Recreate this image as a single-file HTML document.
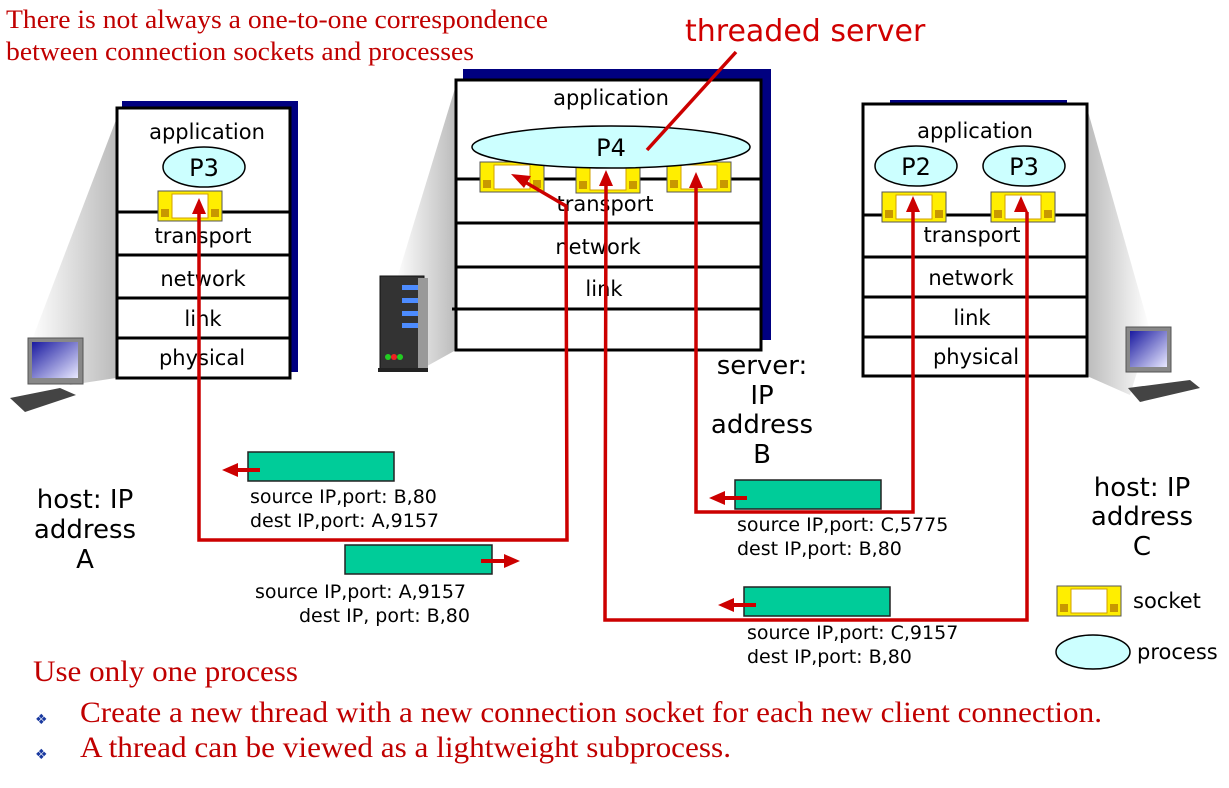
<!DOCTYPE html>
<html><head><meta charset="utf-8"><style>
body{margin:0;background:#fff}
svg text{font-family:"DejaVu Sans","Liberation Sans",sans-serif}
.s{font-family:"Liberation Serif",serif !important}
</style></head><body>
<svg width="1229" height="783" viewBox="0 0 1229 783" xmlns="http://www.w3.org/2000/svg">
<defs>
<linearGradient id="g" x1="0" x2="1"><stop offset="0" stop-color="#fff"/><stop offset="1" stop-color="#bbb"/></linearGradient>
<linearGradient id="g2" x1="1" x2="0"><stop offset="0" stop-color="#fff"/><stop offset="1" stop-color="#bbb"/></linearGradient>
<linearGradient id="scr" x1="0" y1="0" x2="1" y2="1"><stop offset="0" stop-color="#1a1aa0"/><stop offset="1" stop-color="#e8e8ff"/></linearGradient>
<g id="sock"><rect x="0" y="0" width="64" height="30" fill="#ffee00" stroke="#555" stroke-width="1"/><rect x="14" y="3" width="36" height="24" fill="#fff" stroke="#d0a000" stroke-width="1"/><rect x="3" y="18" width="8" height="8" fill="#c89800"/><rect x="53" y="18" width="8" height="8" fill="#c89800"/></g>
</defs>
<text x="6" y="28" class="s" font-size="26" fill="#c00000" textLength="542" lengthAdjust="spacingAndGlyphs">There is not always a one-to-one correspondence</text>
<text x="6" y="60" class="s" font-size="26" fill="#c00000" textLength="468" lengthAdjust="spacingAndGlyphs">between connection sockets and processes</text>
<text x="685" y="41" font-size="30" fill="#d00000">threaded server</text>

<!-- shading -->
<polygon points="30,345 116,120 116,378 70,385" fill="url(#g)"/>
<polygon points="395,285 456,85 456,350 420,370" fill="url(#g)"/>
<polygon points="1087,108 1150,330 1130,395 1087,376" fill="url(#g2)"/>

<!-- left host -->
<rect x="122" y="101" width="176" height="271" fill="#000080"/>
<rect x="117" y="108" width="173" height="270" fill="#fff" stroke="#000" stroke-width="3"/>
<g stroke="#000" stroke-width="3"><line x1="117" y1="212" x2="290" y2="212"/><line x1="117" y1="255" x2="290" y2="255"/><line x1="117" y1="298" x2="290" y2="298"/><line x1="117" y1="338" x2="290" y2="338"/></g>
<text x="207" y="139" font-size="21" text-anchor="middle">application</text>
<ellipse cx="204" cy="167" rx="41" ry="20" fill="#ccffff" stroke="#000" stroke-width="1.5"/>
<text x="204" y="176" font-size="24" text-anchor="middle">P3</text>
<use href="#sock" x="158" y="191"/>
<text x="203" y="243" font-size="21" text-anchor="middle">transport</text>
<text x="203" y="286" font-size="21" text-anchor="middle">network</text>
<text x="203" y="326" font-size="21" text-anchor="middle">link</text>
<text x="202" y="365" font-size="21" text-anchor="middle">physical</text>

<!-- server -->
<rect x="463" y="69" width="308" height="271" fill="#000080"/>
<rect x="456" y="80" width="305" height="270" fill="#fff" stroke="#000" stroke-width="3"/>
<g stroke="#000" stroke-width="3"><line x1="456" y1="179" x2="761" y2="179"/><line x1="456" y1="223" x2="761" y2="223"/><line x1="456" y1="267" x2="761" y2="267"/><line x1="452" y1="309" x2="761" y2="309"/></g>
<text x="611" y="105" font-size="21" text-anchor="middle">application</text>
<use href="#sock" x="480" y="162"/>
<use href="#sock" x="576" y="163"/>
<use href="#sock" x="667" y="162"/>
<ellipse cx="611" cy="147" rx="139" ry="21" fill="#ccffff" stroke="#000" stroke-width="1.5"/>
<text x="611" y="156" font-size="24" text-anchor="middle">P4</text>
<text x="605" y="211" font-size="21" text-anchor="middle">transport</text>
<text x="598" y="254" font-size="21" text-anchor="middle">network</text>
<text x="604" y="296" font-size="21" text-anchor="middle">link</text>

<!-- right host -->
<rect x="890" y="100" width="177" height="6" fill="#000080"/>
<rect x="863" y="104" width="224" height="272" fill="#fff" stroke="#000" stroke-width="3"/>
<g stroke="#000" stroke-width="3"><line x1="863" y1="215" x2="1087" y2="215"/><line x1="863" y1="257" x2="1087" y2="257"/><line x1="863" y1="297" x2="1087" y2="297"/><line x1="863" y1="337" x2="1087" y2="337"/></g>
<text x="975" y="138" font-size="21" text-anchor="middle">application</text>
<ellipse cx="916" cy="166" rx="41" ry="20" fill="#ccffff" stroke="#000" stroke-width="1.5"/>
<text x="916" y="175" font-size="24" text-anchor="middle">P2</text>
<ellipse cx="1024" cy="166" rx="41" ry="20" fill="#ccffff" stroke="#000" stroke-width="1.5"/>
<text x="1024" y="175" font-size="24" text-anchor="middle">P3</text>
<use href="#sock" x="882" y="192"/>
<use href="#sock" x="991" y="192"/>
<text x="972" y="242" font-size="21" text-anchor="middle">transport</text>
<text x="971" y="285" font-size="21" text-anchor="middle">network</text>
<text x="972" y="325" font-size="21" text-anchor="middle">link</text>
<text x="976" y="364" font-size="21" text-anchor="middle">physical</text>

<!-- red routes -->
<g fill="none" stroke="#cc0000" stroke-width="3.5">
<polyline points="199,212 199,540 567,540 566,206 525,182"/>
<polyline points="606,182 605,620 1027,620 1027,212"/>
<polyline points="696,185 696,512 913,512 913,210"/>
<line x1="736" y1="52" x2="647" y2="150"/>
</g>
<g fill="#cc0000">
<polygon points="199,198 192,214 206,214"/>
<polygon points="511,174 524,188 531,176"/>
<polygon points="606,170 599,186 613,186"/>
<polygon points="696,172 689,188 703,188"/>
<polygon points="913,196 906,212 920,212"/>
<polygon points="1021,196 1014,212 1028,212"/>
</g>

<!-- packets -->
<g fill="#00cc99" stroke="#222" stroke-width="1.5">
<rect x="248" y="452" width="146" height="29"/>
<rect x="345" y="545" width="147" height="29"/>
<rect x="735" y="480" width="146" height="29"/>
<rect x="744" y="587" width="146" height="29"/>
</g>
<g stroke="#cc0000" stroke-width="4"><line x1="235" y1="470" x2="260" y2="470"/><line x1="481" y1="561" x2="508" y2="561"/><line x1="722" y1="498" x2="747" y2="498"/><line x1="731" y1="605" x2="756" y2="605"/></g>
<g fill="#cc0000"><polygon points="222,470 238,463 238,477"/><polygon points="520,561 504,554 504,568"/><polygon points="709,498 725,491 725,505"/><polygon points="718,605 734,598 734,612"/></g>
<g font-size="19">
<text x="250" y="503">source IP,port: B,80</text>
<text x="250" y="527">dest IP,port: A,9157</text>
<text x="255" y="598">source IP,port: A,9157</text>
<text x="299" y="622">dest IP, port: B,80</text>
<text x="737" y="531">source IP,port: C,5775</text>
<text x="737" y="555">dest IP,port: B,80</text>
<text x="747" y="639">source IP,port: C,9157</text>
<text x="747" y="663">dest IP,port: B,80</text>
</g>
<g font-size="26" text-anchor="middle">
<text x="762" y="374">server:</text><text x="762" y="404">IP</text><text x="762" y="433">address</text><text x="762" y="463">B</text>
<text x="85" y="508">host: IP</text><text x="85" y="538">address</text><text x="85" y="568">A</text>
<text x="1142" y="496">host: IP</text><text x="1142" y="525">address</text><text x="1142" y="555">C</text>
</g>

<!-- legend -->
<use href="#sock" x="1057" y="586"/>
<text x="1133" y="608" font-size="21">socket</text>
<ellipse cx="1093" cy="652" rx="37" ry="17" fill="#ccffff" stroke="#000" stroke-width="1.5"/>
<text x="1137" y="659" font-size="21">process</text>

<!-- server icon -->
<rect x="380" y="276" width="44" height="94" fill="#333" stroke="#111"/>
<rect x="418" y="278" width="10" height="90" fill="#999"/>
<g fill="#4d8cff"><rect x="402" y="285" width="16" height="5"/><rect x="402" y="298" width="16" height="5"/><rect x="402" y="311" width="16" height="5"/><rect x="402" y="323" width="16" height="5"/></g>
<circle cx="388" cy="357" r="3" fill="#2c2"/><circle cx="394" cy="357" r="3" fill="#e22"/><circle cx="400" cy="357" r="3" fill="#2c2"/>
<rect x="378" y="368" width="50" height="4" fill="#222"/>

<!-- laptops -->
<rect x="28" y="338" width="55" height="46" fill="#888" stroke="#555"/>
<rect x="32" y="342" width="46" height="36" fill="url(#scr)"/>
<polygon points="10,398 60,388 76,395 25,412" fill="#444"/>
<rect x="1126" y="327" width="45" height="45" fill="#888" stroke="#555"/>
<rect x="1130" y="331" width="37" height="36" fill="url(#scr)"/>
<polygon points="1128,388 1190,380 1200,388 1140,402" fill="#444"/>

<!-- bottom text -->
<text x="33" y="681" class="s" font-size="30" fill="#c00000" textLength="265" lengthAdjust="spacingAndGlyphs">Use only one process</text>
<text x="35" y="724" font-size="14" fill="#1a3aa0">❖</text>
<text x="80" y="722" class="s" font-size="30" fill="#c00000" textLength="1022" lengthAdjust="spacingAndGlyphs">Create a new thread with a new connection socket for each new client connection.</text>
<text x="35" y="759" font-size="14" fill="#1a3aa0">❖</text>
<text x="80" y="757" class="s" font-size="30" fill="#c00000" textLength="651" lengthAdjust="spacingAndGlyphs">A thread can be viewed as a lightweight subprocess.</text>
</svg>
</body></html>
